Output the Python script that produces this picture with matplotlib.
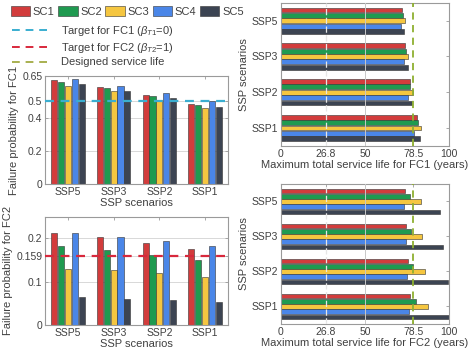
import numpy as np
import matplotlib
matplotlib.use("Agg")
import matplotlib.pyplot as plt
from matplotlib.patches import Patch
from matplotlib.lines import Line2D

plt.rcParams['font.family'] = ['Liberation Sans', 'DejaVu Sans']
plt.rcParams['mathtext.fontset'] = 'custom'
plt.rcParams['mathtext.it'] = 'Liberation Sans:italic'
plt.rcParams['mathtext.rm'] = 'Liberation Sans'

scenarios = ["SSP5", "SSP3", "SSP2", "SSP1"]
series = ["SC1", "SC2", "SC3", "SC4", "SC5"]
colors = ["#d23c3c", "#1f9a50", "#f5c640", "#4a86e8", "#3c4452"]

# Failure probability for FC1 (rows: SC1..SC5, cols: SSP5, SSP3, SSP2, SSP1)
pf_fc1 = [
    [0.625, 0.584, 0.536, 0.485],
    [0.615, 0.577, 0.529, 0.474],
    [0.590, 0.560, 0.509, 0.456],
    [0.635, 0.593, 0.551, 0.500],
    [0.605, 0.559, 0.517, 0.464],
]
# Failure probability for FC2
pf_fc2 = [
    [0.211, 0.202, 0.189, 0.175],
    [0.181, 0.173, 0.161, 0.150],
    [0.129, 0.127, 0.119, 0.111],
    [0.212, 0.204, 0.193, 0.181],
    [0.064, 0.060, 0.058, 0.053],
]
# Maximum total service life for FC1 (years)
life_fc1 = [
    [71.8, 73.7, 76.7, 80.8],
    [72.3, 74.1, 76.9, 81.6],
    [73.7, 75.3, 78.3, 83.3],
    [71.4, 73.1, 75.5, 79.3],
    [73.1, 75.3, 77.7, 82.6],
]
# Maximum total service life for FC2 (years)
life_fc2 = [
    [73.7, 74.3, 75.7, 76.7],
    [76.7, 77.3, 78.7, 80.3],
    [83.0, 83.8, 85.6, 87.6],
    [73.3, 74.3, 74.7, 76.1],
    [94.5, 96.5, 99.4, 100.0],
]

target_fc1 = 0.5
target_fc2 = 0.159
design_life = 78.5

fc1_yticks = [0, 0.2, 0.4, 0.5, 0.65]
fc2_yticks = [0, 0.1, 0.159, 0.2]
life_xticks = [0, 26.8, 50, 78.5, 100]

txt = "#404040"
spine = "#9a9a9a"
plt.rcParams['text.color'] = txt
plt.rcParams['axes.labelcolor'] = txt
plt.rcParams['xtick.color'] = txt
plt.rcParams['ytick.color'] = txt
plt.rcParams['xtick.labelcolor'] = txt
plt.rcParams['ytick.labelcolor'] = txt

fig = plt.figure(figsize=(4.74, 3.61), dpi=100)
fs = 7.5

ax1 = fig.add_axes([0.095, 0.490, 0.386, 0.299])
ax2 = fig.add_axes([0.095, 0.100, 0.386, 0.300])
ax3 = fig.add_axes([0.592, 0.596, 0.356, 0.396])
ax4 = fig.add_axes([0.592, 0.1025, 0.356, 0.388])

pos = np.arange(1, len(scenarios) + 1)
step = 0.15
w = 0.135

def style(ax):
    for s in ax.spines.values():
        s.set_color(spine)
        s.set_linewidth(0.8)
    ax.tick_params(direction='in', length=2.5, width=0.6, labelsize=fs,
                   top=True, right=True, color=spine, pad=2)

def vbars(ax, data, yticks, ylim, target, tcolor, ylabel):
    for i, (vals, c) in enumerate(zip(data, colors)):
        ax.bar(pos + (i - 2) * step, vals, width=w, color=c,
               edgecolor='#333333', linewidth=0.4, zorder=2)
    ax.axhline(target, color=tcolor, ls=(0, (4, 3)), lw=1.6, zorder=3)
    ax.set_xlim(0.5, len(scenarios) + 0.5)
    ax.set_ylim(*ylim)
    ax.set_yticks(yticks)
    ax.set_yticklabels([f"{t:g}" for t in yticks])
    ax.set_xticks(pos)
    ax.set_xticklabels(scenarios)
    ax.yaxis.grid(True, color='#d8d8d8', lw=0.7, zorder=0)
    ax.set_axisbelow(True)
    ax.set_xlabel("SSP scenarios", fontsize=fs + 0.5, labelpad=1)
    ax.set_ylabel(ylabel, fontsize=fs + 0.5, labelpad=2)
    style(ax)

vbars(ax1, pf_fc1, fc1_yticks, (0, 0.65), target_fc1, '#3aaed0',
      "Failure probability for FC1")
vbars(ax2, pf_fc2, fc2_yticks, (0, 0.25), target_fc2, '#d8283c',
      "Failure probability for FC2")

def hbars(ax, data, xlabel):
    ypos = pos[::-1]  # SSP5 on top
    for i, (vals, c) in enumerate(zip(data, colors)):
        ax.barh(ypos + (2 - i) * step, vals, height=w, color=c,
                edgecolor='#333333', linewidth=0.4, zorder=2)
    ax.set_xlim(0, 100)
    ax.set_ylim(0.5, len(scenarios) + 0.5)
    ax.set_yticks(ypos)
    ax.set_yticklabels(scenarios)
    ax.set_xticks(life_xticks)
    ax.set_xticklabels([f"{t:g}" for t in life_xticks])
    ax.axvline(50, color='#c8c8c8', lw=0.7, zorder=3)
    ax.axvline(26.8, color='#e6e6e6', lw=0.9, ls=(0, (5, 2)), zorder=3)
    ax.axvline(design_life, color='#8fb030', ls=(0, (4, 3)), lw=1.3, zorder=4)
    ax.set_xlabel(xlabel, fontsize=fs + 0.5, labelpad=1)
    ax.set_ylabel("SSP scenarios", fontsize=fs + 0.5, labelpad=2)
    style(ax)

hbars(ax3, life_fc1, "Maximum total service life for FC1 (years)")
hbars(ax4, life_fc2, "Maximum total service life for FC2 (years)")

# Legends
patch_handles = [Patch(facecolor=c, edgecolor='#333333', linewidth=0.4) for c in colors]
leg1 = fig.legend(patch_handles, series, loc='upper left', bbox_to_anchor=(0.018, 0.99),
                  ncol=5, frameon=False, fontsize=fs + 0.5, handlelength=1.75,
                  handleheight=1.1, handletextpad=0.25, columnspacing=0.3,
                  borderpad=0.2, borderaxespad=0.0)
line_handles = [
    Line2D([0], [0], color='#3aaed0', ls=(0, (4, 3)), lw=1.4),
    Line2D([0], [0], color='#d8283c', ls=(0, (4, 3)), lw=1.4),
    Line2D([0], [0], color='#a8b050', ls=(0, (4, 3)), lw=1.4),
]
line_labels = [r"Target for FC1 ($\beta_{T1}$=0)",
               r"Target for FC2 ($\beta_{T2}$=1)",
               "Designed service life"]
leg2 = fig.legend(line_handles, line_labels, loc='upper left',
                  bbox_to_anchor=(0.02, 0.94), frameon=False, fontsize=fs + 0.5,
                  handlelength=3.2, handletextpad=1.2, labelspacing=0.25,
                  borderpad=0.2, borderaxespad=0.0)

fig.savefig("out.png", dpi=100)
